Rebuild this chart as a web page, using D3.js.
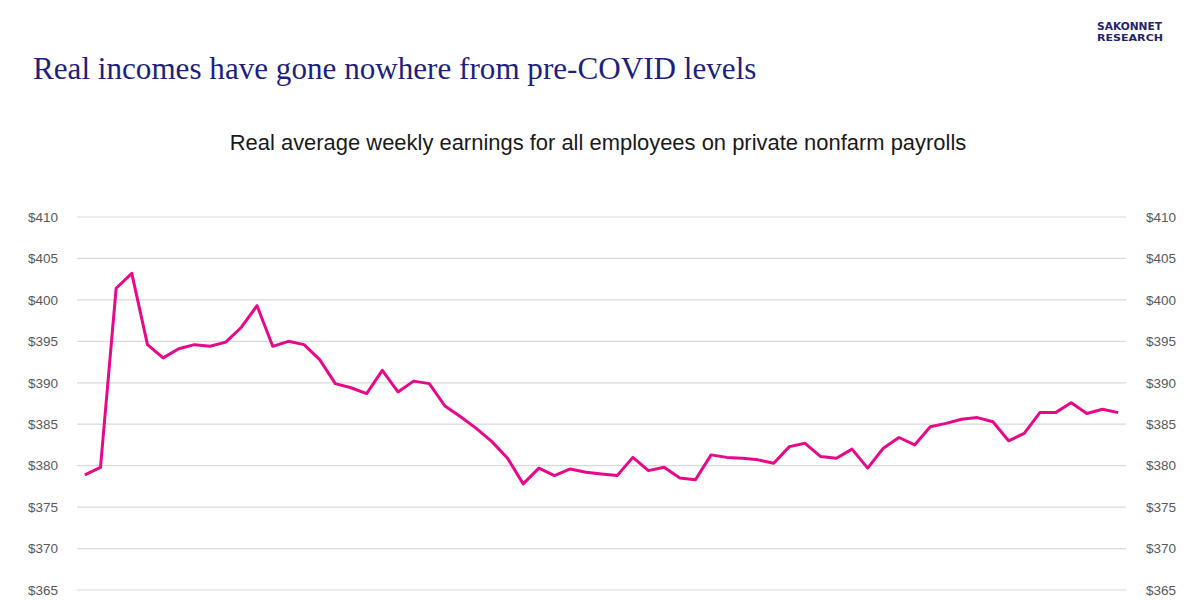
<!DOCTYPE html>
<html lang="en">
<head>
    <meta charset="UTF-8">
    <title>Real average weekly earnings</title>
    <script type="text/javascript" src="https://d3js.org/d3.v7.min.js"></script>
    <style>
        body { margin: 0; background: #fff; }
    </style>
</head>
<body>
<svg height="600" width="1200"></svg>

<script>

    // months Feb 2020 - Aug 2025
    var months = d3.timeMonths(new Date(2020, 1, 1), new Date(2025, 8, 1));

    var earnings = [378.9, 379.8, 401.4, 403.2, 394.6, 393.0, 394.1, 394.6, 394.4, 394.9,
        396.7, 399.3, 394.4, 395.0, 394.6, 392.8, 389.9, 389.4, 388.7, 391.5,
        388.9, 390.2, 389.9, 387.2, 385.9, 384.5, 382.9, 380.9, 377.8, 379.7,
        378.8, 379.6, 379.2, 379.0, 378.8, 381.0, 379.4, 379.8, 378.5, 378.3,
        381.3, 381.0, 380.9, 380.7, 380.3, 382.3, 382.7, 381.1, 380.9, 382.0,
        379.7, 382.1, 383.4, 382.5, 384.7, 385.1, 385.6, 385.8, 385.3, 383.0,
        383.9, 386.4, 386.4, 387.6, 386.3, 386.8, 386.4];

    var yTicks = [365, 370, 375, 380, 385, 390, 395, 400, 405, 410];

    var title = 'Real incomes have gone nowhere from pre-COVID levels';
    var subtitle = 'Real average weekly earnings for all employees on private nonfarm payrolls';

    var svg = d3.select('svg');
    var marge = {top: 217, right: 74, bottom: 10, left: 77};

    var x = d3.scalePoint()
        .domain(months)
        .range([marge.left, 1200 - marge.right])
        .padding(0.5);

    var y = d3.scaleLinear()
        .domain([365, 410])
        .range([590, marge.top]);

    // gridlines
    svg.append('g')
        .selectAll('line')
        .data(yTicks)
        .enter()
        .append('line')
        .attr('x1', marge.left)
        .attr('x2', 1200 - marge.right)
        .attr('y1', function (d) { return y(d); })
        .attr('y2', function (d) { return y(d); })
        .attr('stroke', '#d9d9d9')
        .attr('stroke-width', 1.2);

    // left and right axes (labels only)
    var fmt = function (d) { return '$' + d; };
    var leftAxis = svg.append('g')
        .attr('transform', 'translate(' + (marge.left - 16) + ',0)')
        .call(d3.axisLeft(y).tickValues(yTicks).tickFormat(fmt).tickSize(0));
    var rightAxis = svg.append('g')
        .attr('transform', 'translate(' + (1200 - marge.right + 17) + ',0)')
        .call(d3.axisRight(y).tickValues(yTicks).tickFormat(fmt).tickSize(0));

    [leftAxis, rightAxis].forEach(function (a) {
        a.select('.domain').remove();
        a.selectAll('text')
            .attr('font-family', '"Liberation Sans", Arial, sans-serif')
            .attr('font-size', 13.5)
            .attr('fill', '#595959');
    });

    // the line
    var line = d3.line()
        .x(function (d, i) { return x(months[i]); })
        .y(function (d) { return y(d); });

    svg.append('path')
        .datum(earnings)
        .attr('d', line)
        .attr('fill', 'none')
        .attr('stroke', '#e8088a')
        .attr('stroke-width', 3)
        .attr('stroke-linejoin', 'round');

    // title
    var t = svg.append('text')
        .attr('x', 33)
        .attr('y', 79)
        .attr('font-family', '"Liberation Serif", "DejaVu Serif", serif')
        .attr('font-size', 29)
        .attr('fill', '#1f1f80')
        .text(title);
    var tw = t.node().getComputedTextLength();
    t.attr('font-size', 29 * 724 / tw);

    // subtitle
    var s = svg.append('text')
        .attr('x', 598)
        .attr('y', 150)
        .attr('text-anchor', 'middle')
        .attr('font-family', '"Liberation Sans", Arial, sans-serif')
        .attr('font-size', 20)
        .attr('fill', '#1a1a1a')
        .text(subtitle);
    var sw = s.node().getComputedTextLength();
    s.attr('font-size', 20 * 737 / sw);

    // logo
    var logo = svg.append('g')
        .attr('font-family', '"DejaVu Sans", sans-serif')
        .attr('font-weight', 'bold')
        .attr('fill', '#23236e');
    logo.append('text')
        .attr('x', 1097)
        .attr('y', 30)
        .attr('font-size', 10.5)
        .attr('textLength', 65)
        .attr('lengthAdjust', 'spacingAndGlyphs')
        .text('SAKONNET');
    logo.append('text')
        .attr('x', 1097)
        .attr('y', 40.5)
        .attr('font-size', 9)
        .attr('textLength', 66)
        .attr('lengthAdjust', 'spacingAndGlyphs')
        .text('RESEARCH');
</script>
</body>
</html>
